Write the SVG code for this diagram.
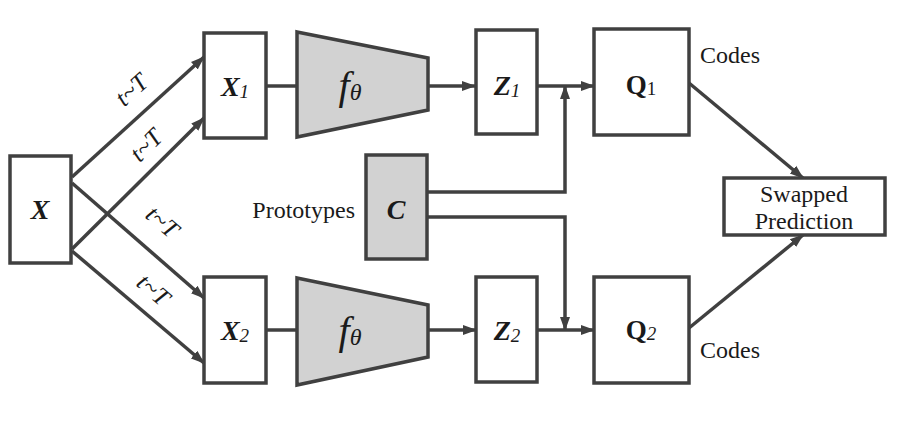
<svg xmlns="http://www.w3.org/2000/svg" width="905" height="427" viewBox="0 0 905 427">
<defs>
<marker id="ah" markerUnits="userSpaceOnUse" markerWidth="14" markerHeight="12" viewBox="0 0 14 12" refX="13" refY="6" orient="auto">
<path d="M0,1 L14,6 L0,11 Z" fill="#404040"/>
</marker>
</defs>
<style>
.box{fill:#ffffff;stroke:#404040;stroke-width:3.5}
.gray{fill:#d2d2d2;stroke:#404040;stroke-width:3.5}
.ln{fill:none;stroke:#404040;stroke-width:3.5}
.ar{fill:none;stroke:#404040;stroke-width:3.5;marker-end:url(#ah)}
text{font-family:"Liberation Serif","DejaVu Serif",serif;fill:#1a1a1a}
.var{font-weight:bold;font-style:italic;font-size:28px}
.sub{font-style:italic;font-weight:normal;font-size:19px}
.lbl{font-size:24px}
.tt{font-style:italic;font-size:25px}
</style>
<rect width="905" height="427" fill="#ffffff"/>
<g id="connectors">
<line class="ar" x1="72" y1="177" x2="204" y2="57"/>
<line class="ar" x1="72" y1="249" x2="204" y2="118"/>
<line class="ar" x1="72" y1="183" x2="204" y2="298"/>
<line class="ar" x1="72" y1="251" x2="204" y2="363"/>
<line class="ln" x1="266" y1="86" x2="297" y2="86"/>
<line class="ln" x1="266" y1="330" x2="297" y2="330"/>
<line class="ar" x1="428" y1="86" x2="475" y2="86"/>
<line class="ar" x1="428" y1="330" x2="476" y2="330"/>
<line class="ar" x1="538" y1="86" x2="594" y2="86"/>
<line class="ar" x1="537" y1="330" x2="594" y2="330"/>
<polyline class="ar" points="427,192 565,192 565,86"/>
<polyline class="ar" points="427,217 565,217 565,330"/>
<line class="ar" x1="689" y1="83" x2="803" y2="178"/>
<line class="ar" x1="689" y1="328" x2="803" y2="235"/>
<text class="tt" transform="translate(137,96) rotate(-42)" text-anchor="middle">t~T</text>
<text class="tt" transform="translate(152,151) rotate(-45)" text-anchor="middle">t~T</text>
<text class="tt" transform="translate(157,228) rotate(41)" text-anchor="middle">t~T</text>
<text class="tt" transform="translate(148,296) rotate(41)" text-anchor="middle">t~T</text>
</g>
<g id="node-x">
<rect class="box" x="10" y="156" width="61" height="107"/>
<text class="var" x="40" y="219" text-anchor="middle">X</text>
</g>
<g id="node-x1">
<rect class="box" x="204" y="33" width="62" height="105"/>
<text class="var" x="235" y="96" text-anchor="middle">X<tspan class="sub" dy="2">1</tspan></text>
</g>
<g id="node-x2">
<rect class="box" x="204" y="277" width="62" height="106"/>
<text class="var" x="235" y="340" text-anchor="middle">X<tspan class="sub" dy="2">2</tspan></text>
</g>
<g id="node-f1">
<polygon class="gray" points="297,32 428,58 428,110 297,137"/>
<text x="350" y="99" text-anchor="middle" font-style="italic" font-size="40">f<tspan font-size="24" dy="1">θ</tspan></text>
</g>
<g id="node-f2">
<polygon class="gray" points="297,278 428,305 428,357 297,385"/>
<text x="350" y="344" text-anchor="middle" font-style="italic" font-size="40">f<tspan font-size="24" dy="1">θ</tspan></text>
</g>
<g id="node-z1">
<rect class="box" x="476" y="30" width="61" height="104"/>
<text class="var" x="507" y="95" text-anchor="middle">Z<tspan class="sub" dy="2">1</tspan></text>
</g>
<g id="node-z2">
<rect class="box" x="476" y="277" width="61" height="105"/>
<text class="var" x="507" y="340" text-anchor="middle">Z<tspan class="sub" dy="2">2</tspan></text>
</g>
<g id="node-c">
<rect class="gray" x="366" y="155" width="61" height="104"/>
<text class="var" x="396" y="219" text-anchor="middle">C</text>
<text class="lbl" x="355" y="218" text-anchor="end">Prototypes</text>
</g>
<g id="node-q1">
<rect class="box" x="594" y="29" width="95" height="106"/>
<text x="641" y="94" text-anchor="middle" font-weight="bold" font-size="27">Q<tspan font-weight="normal" font-size="19" dy="1">1</tspan></text>
<text class="lbl" x="700" y="63">Codes</text>
</g>
<g id="node-q2">
<rect class="box" x="594" y="277" width="95" height="106"/>
<text x="641" y="339" text-anchor="middle" font-weight="bold" font-size="27">Q<tspan font-weight="normal" font-style="italic" font-size="19" dy="1">2</tspan></text>
<text class="lbl" x="700" y="358">Codes</text>
</g>
<g id="node-swap">
<rect class="box" x="724" y="178" width="161" height="57"/>
<text class="lbl" x="804" y="202" text-anchor="middle">Swapped</text>
<text class="lbl" x="804" y="229" text-anchor="middle">Prediction</text>
</g>
</svg>
